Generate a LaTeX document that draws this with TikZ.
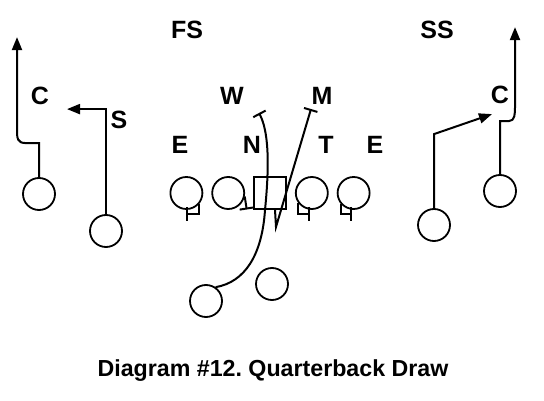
\documentclass[tikz,border=0pt]{standalone}
\usepackage{fontspec}
\setmainfont{Liberation Sans}
\usetikzlibrary{positioning, arrows.meta}
\frenchspacing

\begin{document}
\begin{tikzpicture}[x=0.5pt, y=-0.5pt, node distance=4pt, line width=1pt]
	\tikzstyle{player} = [draw, circle, minimum size = 16pt, inner sep = 0pt, line width = 0.9pt];
	\tikzstyle{snapbox} = [draw, rectangle, minimum size = 16pt, inner sep = 0pt, line width = 0.9pt];
	\tikzstyle{lbl} = [font = \bfseries\fontsize{12.5}{12.5}\selectfont, inner sep = 0pt];
	\tikzstyle{route} = [-{Triangle[length = 6.5pt, width = 5pt]}];
	\tikzstyle{block} = [-{Bar[width = 7pt]}];
	
	\useasboundingbox (0,0) rectangle (544,400);
	
	% offensive line
	\node[snapbox] (ce) at (270,193) {};
	\node[player, left = of ce] (lg) {};
	\node[player, left = of lg] (lt) {};
	\node[player, right = of ce] (rg) {};
	\node[player, right = of rg] (rt) {};
	
	% backs and receivers
	\node[player] (qb) at (206,301) {};
	\node[player] (rb) at (272,284) {};
	\node[player] (lc) at (39,194) {};
	\node[player] (ls) at (106,231) {};
	\node[player] (rs) at (434,225) {};
	\node[player] (rc) at (500,191) {};
	
	% defense
	\node[lbl] (fs) at (187,30) {FS};
	\node[lbl] (ss) at (437,30) {SS};
	\node[lbl] (w) at (232,96) {W};
	\node[lbl] (m) at (322,96) {M};
	\node[lbl] (e1) at (180,145) {E};
	\node[lbl] (n) at (252,145) {N};
	\node[lbl] (t) at (326,145) {T};
	\node[lbl] (e2) at (375,145) {E};
	\node[lbl] (c1) at (40,96) {C};
	\node[lbl] (s) at (119,120) {S};
	\node[lbl] (c2) at (500,95) {C};
	
	\coordinate (wb) at (259,113);
	\coordinate (mb) at (311,109);
	
	% blocks
	\draw[block] (lt.-40) -- ++(0,10) -- ++(-13,0);
	\draw[block] (lg.-12) -- ++(2,13);
	\draw[block] (rg.-145) -- ++(0,11) -- ++(12,0);
	\draw[block] (rt.-140) -- ++(0,10) -- ++(11,0);
	\draw[block] ([xshift=2.5pt]ce.south) -- ++(1,17) -- (mb);
	\draw[block] (qb.55) .. controls (245,282) and (262,255) .. (265,210) .. controls (270,160) and (268,130) .. (wb);
	
	% routes
	\draw[route] (lc.north) -- ++(0,-34) -- ++(-13,0) .. controls +(-9,0) and +(0,9) .. ++(-9,-14) -- ++(0,-92);
	\draw[route] (ls.north) -- ++(0,-105) -- ++(-39,0);
	\draw[route] (rs.north) -- ++(0,-74) -- ++(58,-20);
	\draw[route] (rc.north) -- ++(0,-53) -- ++(9,0) .. controls +(6,0) and +(0,6) .. ++(6,-14) -- ++(0,-80);
	
	\node[font = \bfseries\fontsize{11.6}{11.6}\selectfont] (cap) at (273,371) {Diagram \#12. Quarterback Draw};
	
\end{tikzpicture}
\end{document}
